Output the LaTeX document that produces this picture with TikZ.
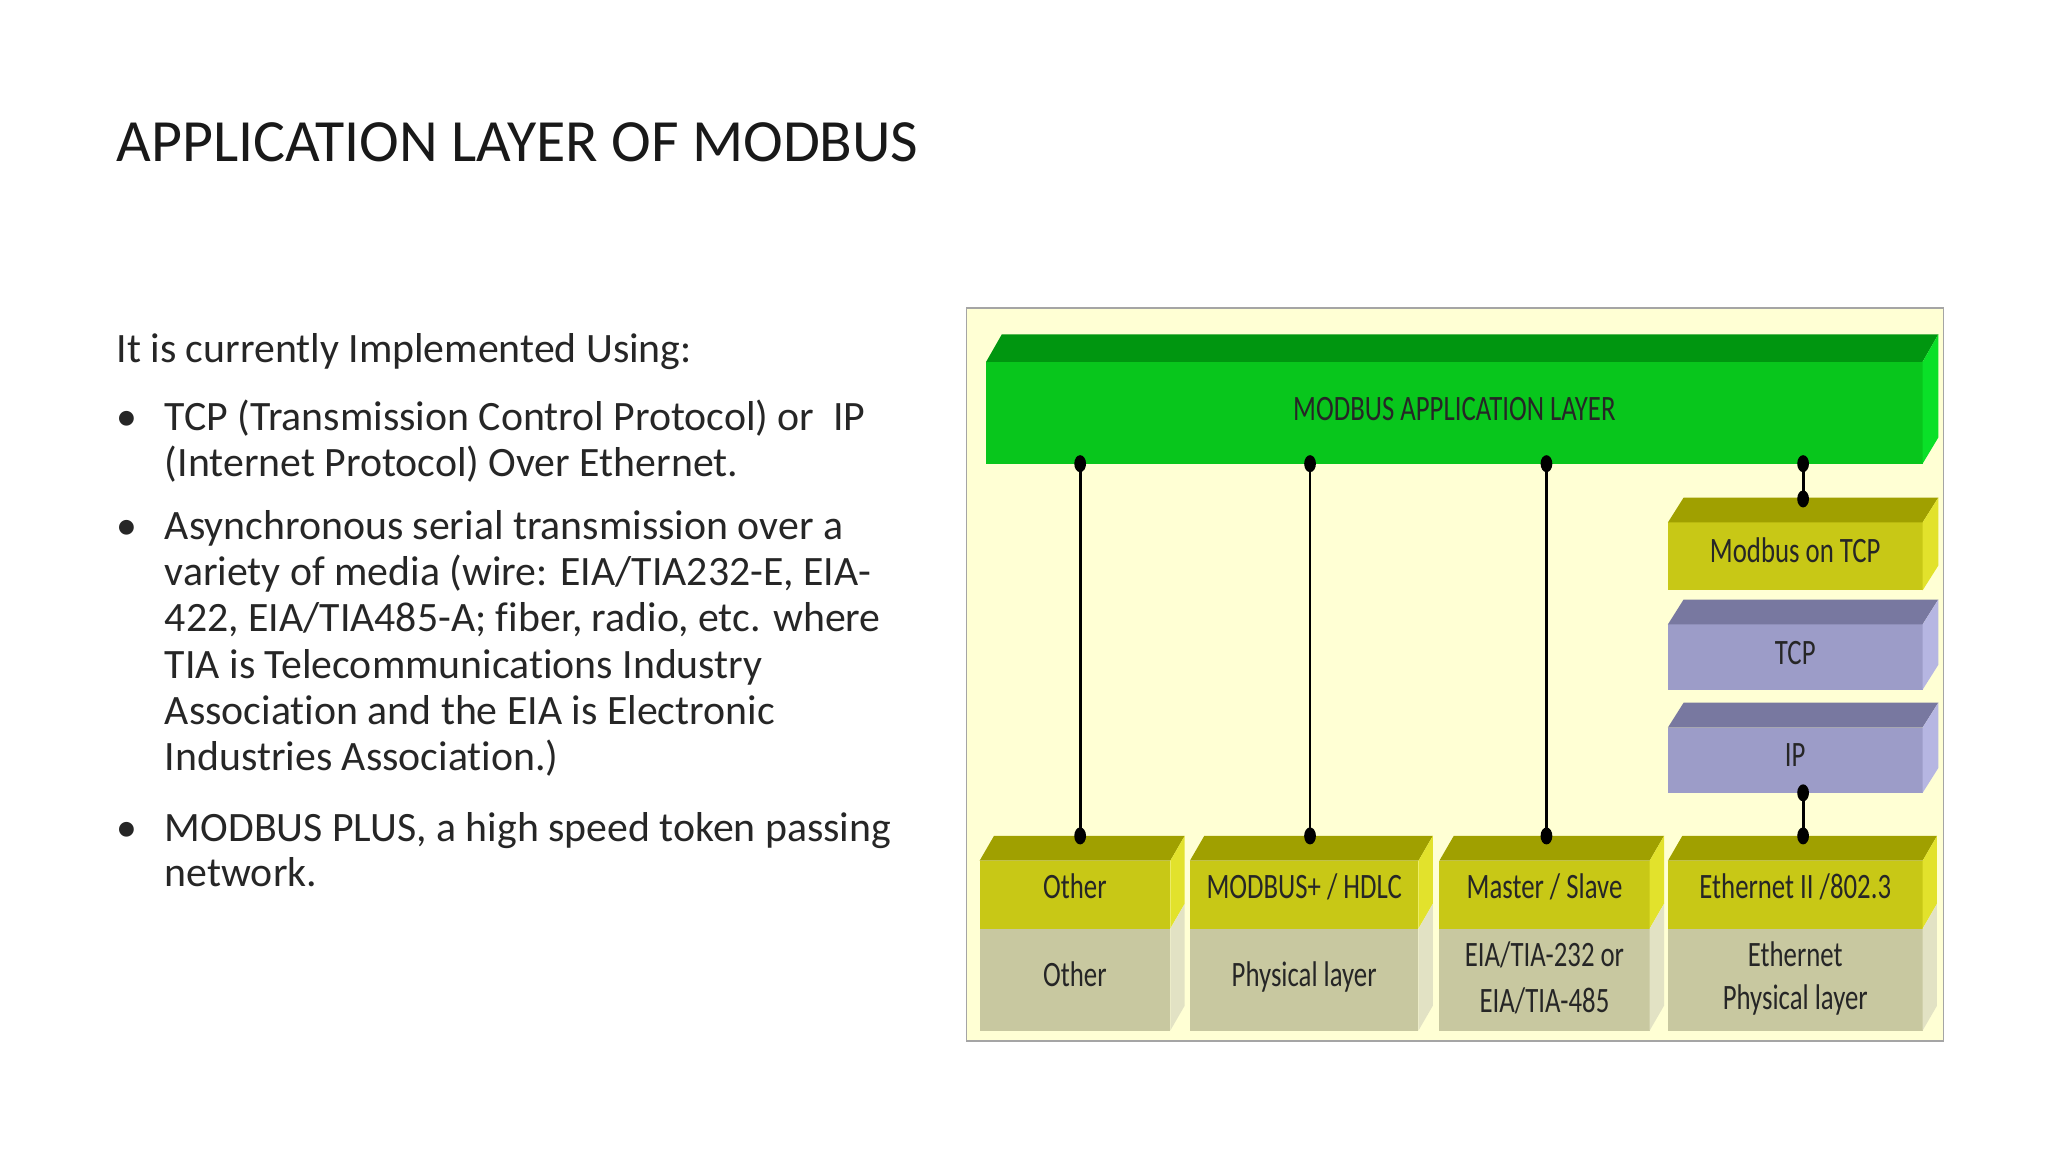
\documentclass[tikz,border=0pt]{standalone}
\usepackage{fontspec}
\setmainfont{Carlito}[Ligatures=NoCommon]
\newfontfamily\diagfont[FakeStretch=0.75,Ligatures=NoCommon]{Carlito}

\definecolor{panelbg}{RGB}{255,255,212}
\definecolor{panelline}{RGB}{165,165,165}
\definecolor{grnfront}{RGB}{8,198,28}
\definecolor{grntop}{RGB}{0,150,16}
\definecolor{grnside}{RGB}{10,224,40}
\definecolor{yelfront}{RGB}{200,200,22}
\definecolor{yeltop}{RGB}{160,160,0}
\definecolor{yelside}{RGB}{226,226,44}
\definecolor{gryfront}{RGB}{200,200,160}
\definecolor{gryside}{RGB}{226,226,196}
\definecolor{prpfront}{RGB}{156,156,200}
\definecolor{prptop}{RGB}{120,120,160}
\definecolor{prpside}{RGB}{182,182,226}

\tikzset{
  title/.style={font=\fontsize{34.4}{40}\selectfont, anchor=base west, inner sep=0pt, text=black!90},
  body/.style={font=\fontsize{24}{28}\selectfont, anchor=base west, inner sep=0pt, text=black!85},
  lbl/.style={font=\diagfont\fontsize{20.5}{24}\selectfont, anchor=base, inner sep=0pt, text=black!85},
  link/.style={line width=1.6pt, black},
}

\begin{document}
\begin{tikzpicture}[x=0.75pt,y=0.75pt,yscale=-1,xscale=1]
\useasboundingbox (0,0) rectangle (1568,882);
\fill[white] (0,0) rectangle (1568,882);

% Text Node
\node[title] (ttl) at (89,123.5) {APPLICATION LAYER OF MODBUS};

% Text Node
\node[body] (intro) at (89,277.5) {It is currently Implemented Using:};
% Text Node
\node[body] (dot1) at (89,329.6) {•};
\node[body] (tcp1) at (126,329.6) {TCP (Transmission Control Protocol) or\ \ IP};
\node[body] (tcp2) at (126,364.8) {(Internet Protocol) Over Ethernet.};
% Text Node
\node[body] (dot2) at (89,413) {•};
\node[body] (asy1) at (126,413) {Asynchronous serial transmission over a};
\node[body] (asy2) at (126,448.4) {variety of media (wire: EIA/TIA232-E, EIA-};
\node[body] (asy3) at (126,483.8) {422, EIA/TIA485-A; fiber, radio, etc. where};
\node[body] (asy4) at (126,519.2) {TIA is Telecommunications Industry};
\node[body] (asy5) at (126,554.6) {Association and the EIA is Electronic};
\node[body] (asy6) at (126,590) {Industries Association.)};
% Text Node
\node[body] (dot3) at (89,644) {•};
\node[body] (mbp1) at (126,644) {MODBUS PLUS, a high speed token passing};
\node[body] (mbp2) at (126,679) {network.};

%Shape: Rectangle [panel]
\draw[panelline, fill=panelbg, line width=1] (740,236) rectangle (1488,797);

%Shape: Cube [application layer]
\fill[grnfront] (755,277) rectangle (1472,355);
\fill[grntop] (755,277) -- (767,256) -- (1484,256) -- (1472,277) -- cycle;
\fill[grnside] (1472,277) -- (1484,256) -- (1484,335) -- (1472,355) -- cycle;

%Shape: Cube [right column]
\fill[yelfront] (1277,400) rectangle (1472,452);
\fill[yeltop] (1277,400) -- (1289,381) -- (1484,381) -- (1472,400) -- cycle;
\fill[yelside] (1472,400) -- (1484,381) -- (1484,433) -- (1472,452) -- cycle;
\foreach \ya/\yb in {478/528, 557/607} {
  \fill[prpfront] (1277,\ya) rectangle (1472,\yb);
  \fill[prptop] (1277,\ya) -- (1289,\ya-19) -- (1484,\ya-19) -- (1472,\ya) -- cycle;
  \fill[prpside] (1472,\ya) -- (1484,\ya-19) -- (1484,\yb-19) -- (1472,\yb) -- cycle;
}

%Shape: Cube [bottom row]
\foreach \xa/\xb in {750/896, 911/1086, 1102/1263, 1277/1472} {
  \fill[yelfront] (\xa,659) rectangle (\xb,711);
  \fill[gryfront] (\xa,711) rectangle (\xb,789);
  \fill[yeltop] (\xa,659) -- (\xa+11,640) -- (\xb+11,640) -- (\xb,659) -- cycle;
  \fill[yelside] (\xb,659) -- (\xb+11,640) -- (\xb+11,692) -- (\xb,711) -- cycle;
  \fill[gryside] (\xb,711) -- (\xb+11,692) -- (\xb+11,770) -- (\xb,789) -- cycle;
}

% Text Node
\node[lbl] (tapp) at (1113.5,322) {MODBUS APPLICATION LAYER};
\node[lbl] (tmtcp) at (1374.5,430.5) {Modbus on TCP};
\node[lbl] (ttcp) at (1374.5,508.5) {TCP};
\node[lbl] (tip) at (1374.5,587) {IP};
% Text Node
\node[lbl] (toth) at (823,688) {Other};
\node[lbl] (thdlc) at (998.5,688) {MODBUS+ / HDLC};
\node[lbl] (tms) at (1182.5,688) {Master / Slave};
\node[lbl] (teth) at (1374.5,688) {Ethernet II /802.3};
% Text Node
\node[lbl] (poth) at (823,755) {Other};
\node[lbl] (phy) at (998.5,755) {Physical layer};
\node[lbl] (p232) at (1182.5,740) {EIA/TIA-232 or};
\node[lbl] (p485) at (1182.5,775) {EIA/TIA-485};
\node[lbl] (peth) at (1374.5,740) {Ethernet};
\node[lbl] (pphy) at (1374.5,773) {Physical layer};

%Straight Lines [links]
\coordinate (a1) at (827,355);   \coordinate (b1) at (827,640);
\coordinate (a2) at (1003,355);  \coordinate (b2) at (1003,640);
\coordinate (a3) at (1184,355);  \coordinate (b3) at (1184,640);
\coordinate (a4) at (1380.5,355); \coordinate (b4) at (1380.5,382);
\coordinate (a5) at (1380.5,607); \coordinate (b5) at (1380.5,640);
\foreach \p/\q in {a1/b1, a2/b2, a3/b3, a4/b4, a5/b5} {
  \draw[link] (\p) -- (\q);
  \fill (\p) ellipse (4.5 and 6.5);
  \fill (\q) ellipse (4.5 and 6.5);
}

\end{tikzpicture}
\end{document}
